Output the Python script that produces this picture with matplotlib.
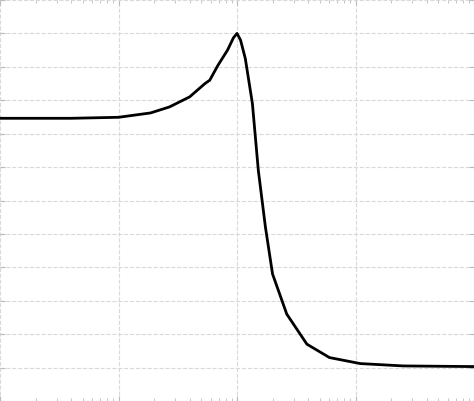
import numpy as np
import matplotlib.pyplot as plt

# points: frequency (log scale) and level
freq_exp = [0.0, 0.6, 1.0, 1.27, 1.43, 1.6, 1.73, 1.77, 1.84, 1.92, 1.97,
            2.0, 2.03, 2.07, 2.13, 2.18, 2.24, 2.30, 2.42, 2.59, 2.78, 3.04, 3.4, 4.0]
level = [-3.54, -3.54, -3.51, -3.38, -3.2, -2.9, -2.5, -2.4, -1.95, -1.5, -1.13,
         -1.0, -1.2, -1.75, -3.1, -5.1, -6.8, -8.2, -9.4, -10.3, -10.7, -10.88, -10.95, -10.97]

freq = [10 ** e for e in freq_exp]

fig = plt.figure(figsize=(4.74, 4.01), dpi=100)
ax = fig.add_axes([0, 0, 1, 1])
ax.semilogx(freq, level, color="black", linewidth=2)
ax.set_xlim(1, 1e4)
ax.set_ylim(-12, 0)
ax.set_yticks(np.arange(-12, 1, 1))
ax.grid(True, which="major", linestyle="--", color="#d9d9d9", linewidth=0.8)
ax.tick_params(which="both", direction="in", top=True, right=True,
               labelbottom=False, labelleft=False, color="#bbbbbb")
for s in ax.spines.values():
    s.set_visible(False)
fig.savefig("out.png", dpi=100)
